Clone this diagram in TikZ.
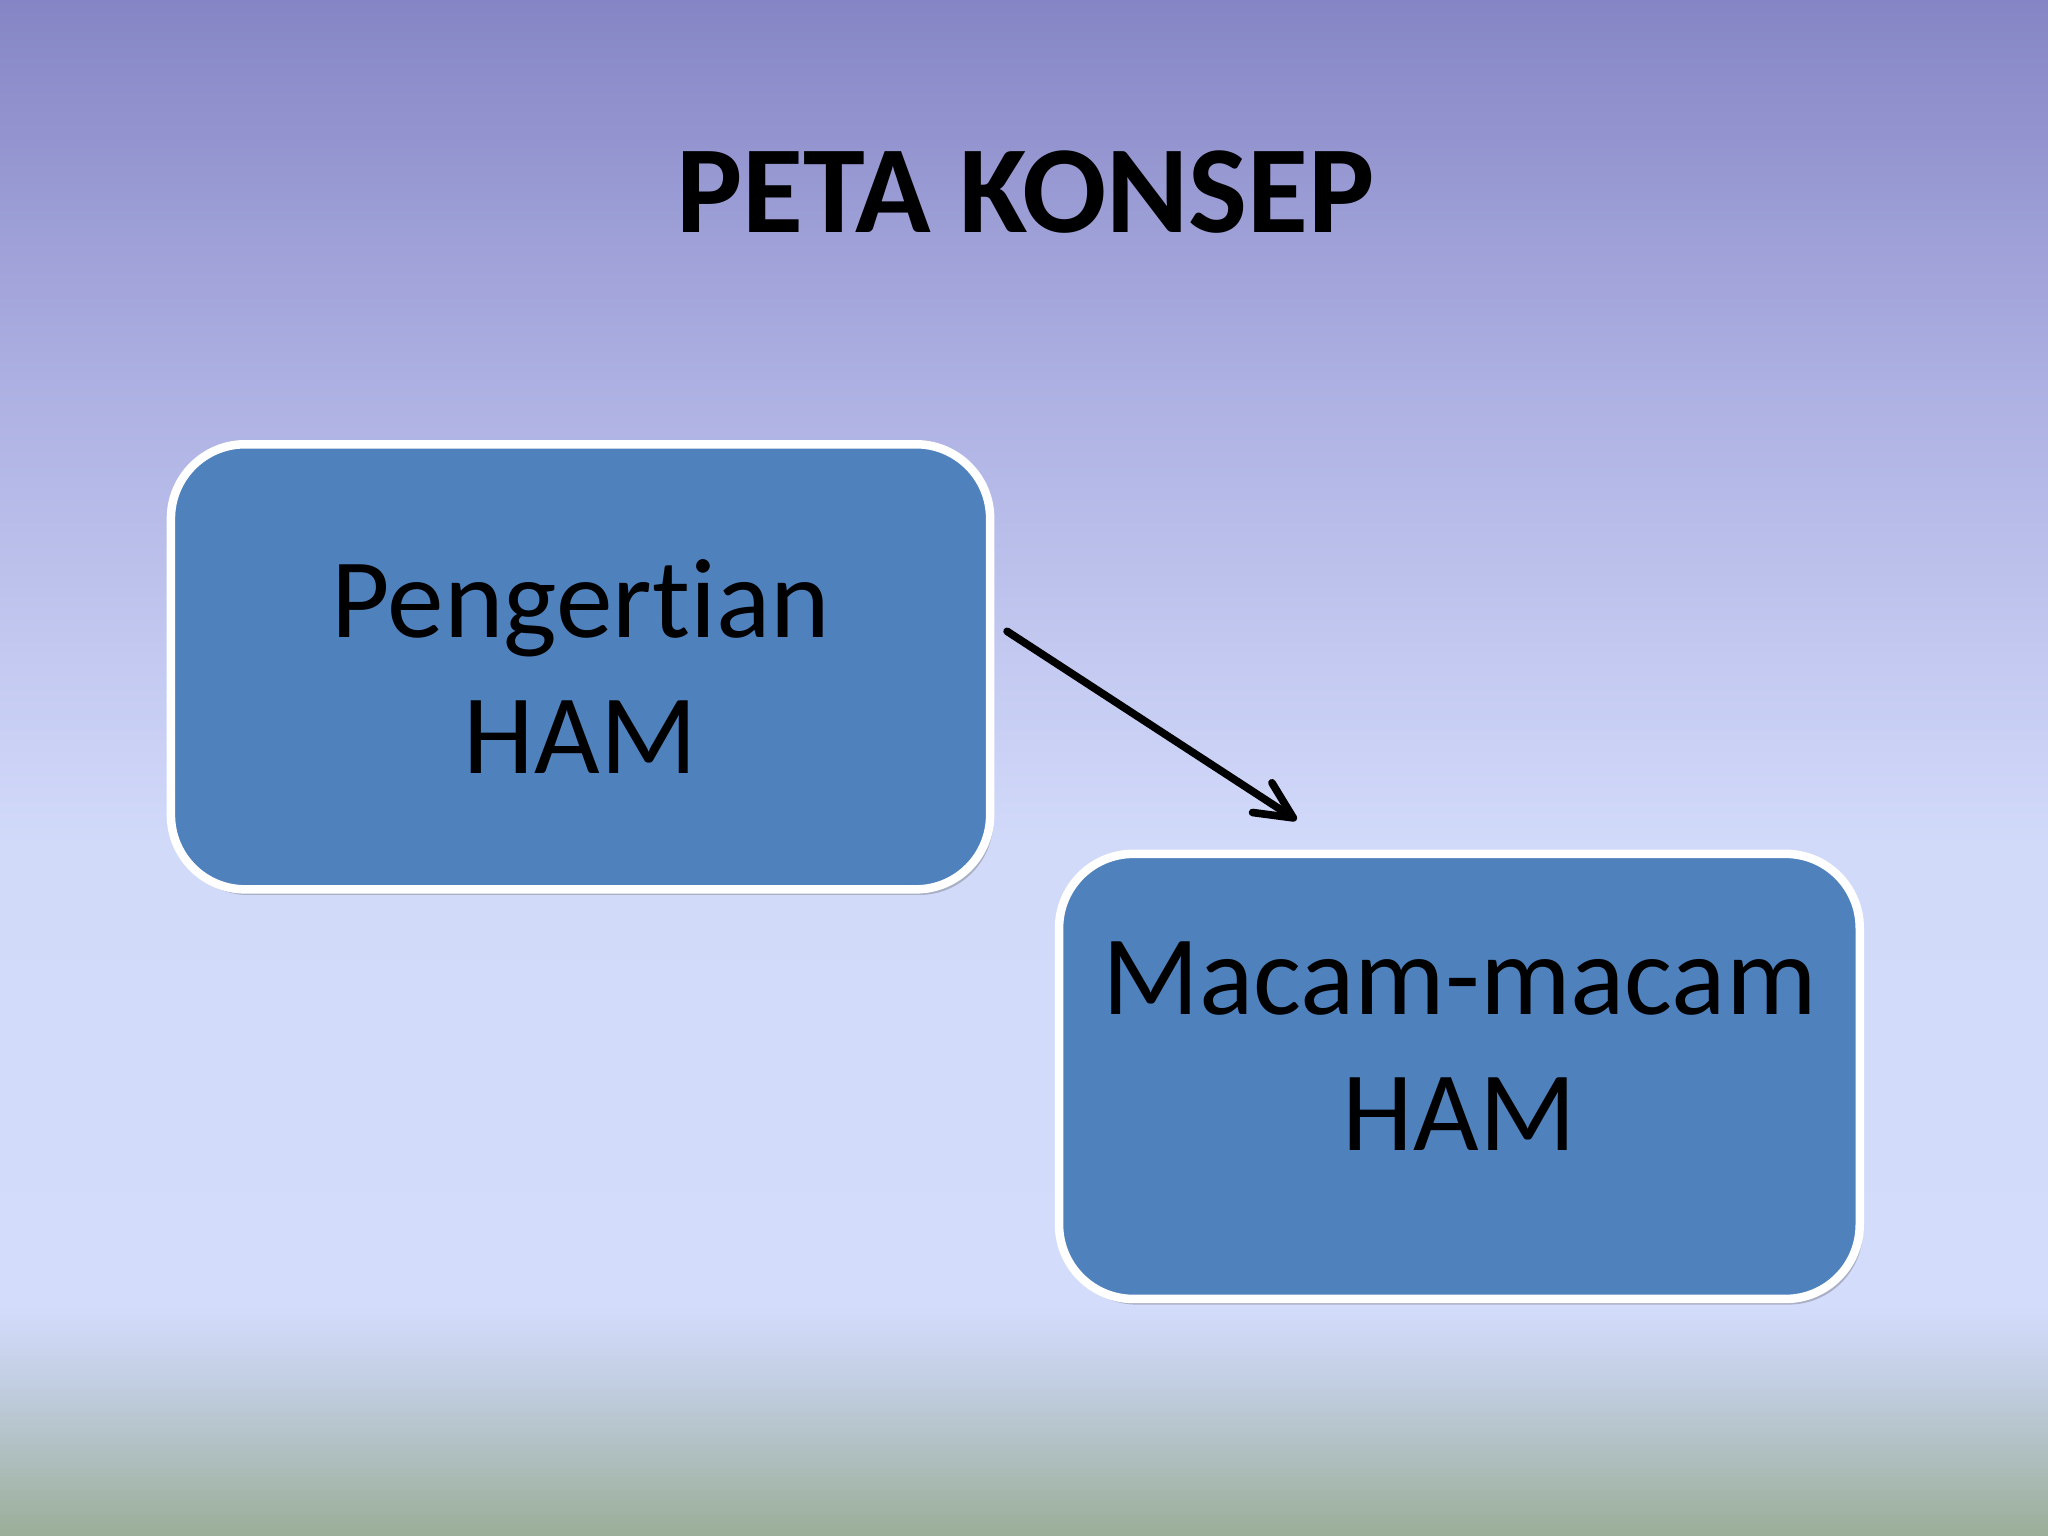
\documentclass[tikz,border=0pt]{standalone}
\usepackage{fontspec}
\setmainfont[Ligatures=NoCommon]{Carlito}
\usetikzlibrary{positioning,arrows.meta,shadows}

% slide colours
\definecolor{bgtop}{HTML}{8585C5}
\definecolor{bgupper}{HTML}{ADB0E2}
\definecolor{bgmid}{HTML}{D2DAFA}
\definecolor{bglow}{HTML}{D4DCFC}
\definecolor{bgfade}{HTML}{C2CEE2}
\definecolor{bgbottom}{HTML}{9AAE98}
\definecolor{boxblue}{HTML}{4F81BD}

% background: path covers 25bp..75bp of the shading
\pgfdeclareverticalshading{slidebg}{100bp}{%
  color(0bp)=(bgbottom); color(25bp)=(bgbottom); color(30bp)=(bgfade);
  color(32.5bp)=(bglow); color(47.5bp)=(bgmid); color(62.5bp)=(bgupper);
  color(75bp)=(bgtop); color(100bp)=(bgtop)}

\tikzset{
  conceptbox/.style={draw=white, line width=3pt, fill=boxblue,
    rounded corners=0.92cm, minimum width=10.16cm, minimum height=5.52cm,
    outer sep=0pt, align=center, font=\fontsize{40}{48}\selectfont,
    drop shadow={shadow xshift=0.04cm, shadow yshift=-0.07cm,
      opacity=0.3, fill=black!70}},
  arrowline/.style={line width=2.7pt, line cap=round,
    -{Straight Barb[length=4.6mm, width=4.4mm, round]}},
}

\begin{document}
\begin{tikzpicture}
  %% slide
  \useasboundingbox (0,0) rectangle (25.4,19.05);
  \shade[shading=slidebg] (0,0) rectangle (25.4,19.05);

  \node[anchor=base, font=\fontsize{44}{53}\selectfont\bfseries] (title) at (12.72,16.17) {PETA KONSEP};

  % concept boxes
  \node[conceptbox] (pengertian) at (7.20,10.78) {Pengertian\\HAM};
  \node[conceptbox, minimum width=9.93cm, text depth=0.74cm] (macam) at (18.10,5.70) {Macam-macam\\HAM};

  \draw[arrowline] ([shift={(0.21,0.44)}]pengertian.east) -- ([shift={(-2.02,0.42)}]macam.north);
\end{tikzpicture}
\end{document}
